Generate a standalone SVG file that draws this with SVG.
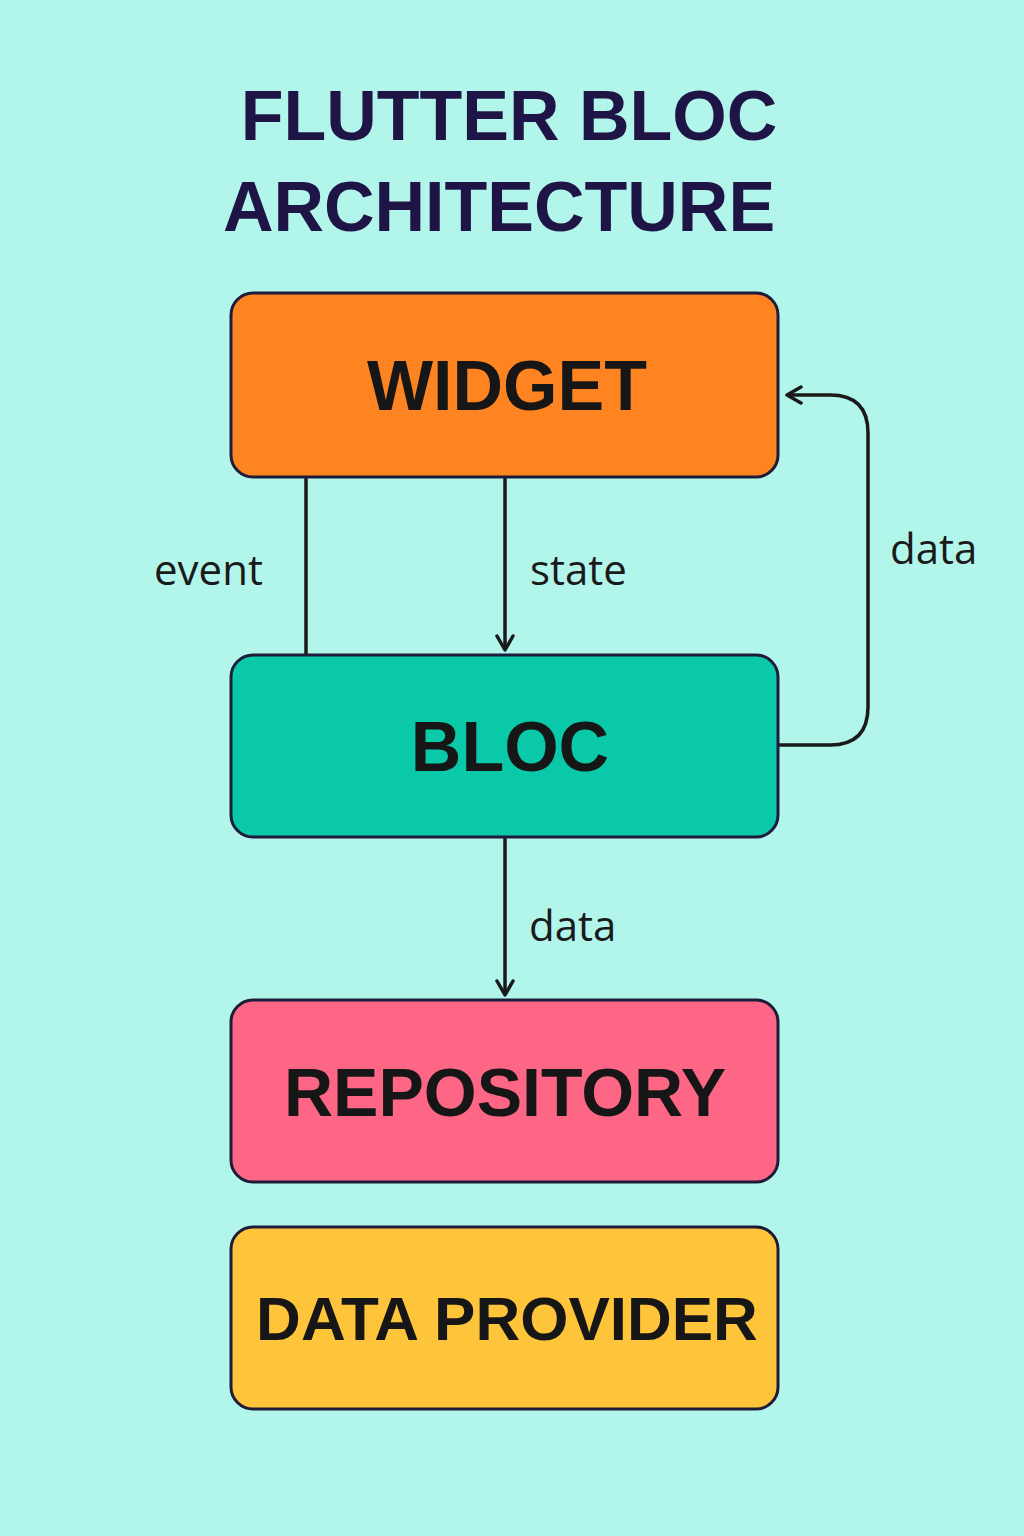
<svg xmlns="http://www.w3.org/2000/svg" width="1024" height="1536" viewBox="0 0 1024 1536">
<style>
.box{stroke:#1e1c3a;stroke-width:3}
.lbl{font-family:"Liberation Sans",Arial,sans-serif;font-weight:bold;fill:#161616;text-anchor:middle}
.t{font-family:"Liberation Sans",Arial,sans-serif;font-weight:bold;fill:#1e1446;text-anchor:middle;font-size:70px}
.c{fill:none;stroke:#1a1a1a;stroke-width:3.5}
.e{font-family:"Open Sans","Liberation Sans",sans-serif;font-size:42px;fill:#1a1a1a}
</style>
<defs>
<marker id="a" viewBox="0 0 20 20" refX="18" refY="10" markerWidth="20" markerHeight="20" markerUnits="userSpaceOnUse" orient="auto">
<path d="M4,2 L18,10 L4,18" fill="none" stroke="#1a1a1a" stroke-width="3.5" stroke-linecap="round" stroke-linejoin="round"/>
</marker>
</defs>
<rect width="1024" height="1536" fill="#b2f5ea"/>
<text class="t" x="509" y="140">FLUTTER BLOC</text>
<text class="t" x="499" y="231">ARCHITECTURE</text>
<g id="connectors">
<line class="c" x1="306" y1="477" x2="306" y2="655"/>
<line class="c" x1="505" y1="477" x2="505" y2="650" marker-end="url(#a)"/>
<path class="c" d="M778,745 H830 Q868,745 868,707 V433 Q868,395 830,395 H787" marker-end="url(#a)"/>
<line class="c" x1="505" y1="837" x2="505" y2="995" marker-end="url(#a)"/>
<text class="e" x="154" y="585">event</text>
<text class="e" x="530" y="585">state</text>
<text class="e" x="890" y="564">data</text>
<text class="e" x="529" y="941">data</text>
</g>
<g id="widget"><rect class="box" x="231" y="293" width="547" height="184" rx="22" fill="#fd8421"/><text class="lbl" x="507" y="410" font-size="70">WIDGET</text></g>
<g id="bloc"><rect class="box" x="231" y="655" width="547" height="182" rx="22" fill="#0ac9a9"/><text class="lbl" x="510" y="771" font-size="70">BLOC</text></g>
<g id="repository"><rect class="box" x="231" y="1000" width="547" height="182" rx="22" fill="#fe6685"/><text class="lbl" x="505" y="1116" font-size="68">REPOSITORY</text></g>
<g id="dataprovider"><rect class="box" x="231" y="1227" width="547" height="182" rx="22" fill="#fec53b"/><text class="lbl" x="507" y="1340" font-size="62">DATA PROVIDER</text></g>
</svg>
